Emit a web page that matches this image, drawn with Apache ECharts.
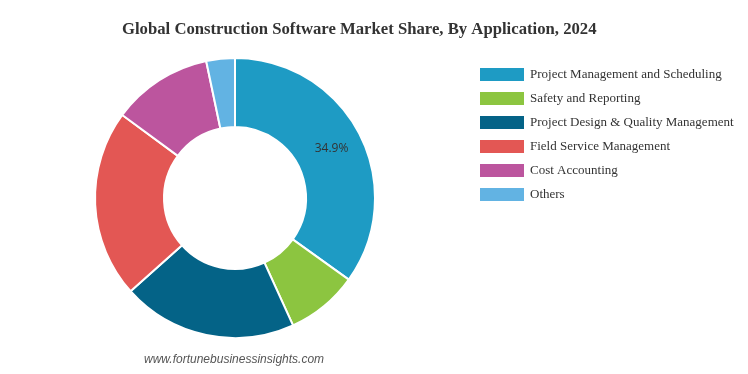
<!DOCTYPE html>
<html>
<head>
<meta charset="utf-8">
<script src="https://cdn.jsdelivr.net/npm/echarts@6/dist/echarts.min.js"></script>
<style>html,body{margin:0;padding:0;background:#fff}#c{width:748px;height:374px}</style>
</head>
<body>
<div id="c"></div>
<script>
var categories = ["Project Management and Scheduling","Safety and Reporting","Project Design & Quality Management","Field Service Management","Cost Accounting","Others"];
var values = [34.9, 8.3, 20.2, 21.7, 11.6, 3.3];
var colors = ["#1e9bc4","#8cc540","#046387","#e35754","#bc559e","#62b3e3"];

var chart = echarts.init(document.getElementById('c'));
chart.setOption({
  animation: false,
  color: colors,
  title: {
    text: "Global Construction Software Market Share, By Application, 2024",
    left: 117, top: 16,
    textStyle: {fontFamily: 'Liberation Serif', fontWeight: 'bold', fontSize: 16.7, color: '#333'}
  },
  graphic: [{
    type: 'text', top: 354, left: 144,
    style: {text: 'www.fortunebusinessinsights.com', font: 'italic 12px "Liberation Sans"', fill: '#555'}
  }],
  legend: {
    orient: 'vertical', left: 473, top: 61,
    itemWidth: 46, itemHeight: 15, itemGap: 7,
    icon: 'rect',
    textStyle: {fontFamily: 'Liberation Serif', fontSize: 13, color: '#333', lineHeight: 15, padding: [0,0,0,0]},
    data: categories
  },
  series: [{
    type: 'pie',
    center: [235, 198],
    radius: [71, 140],
    startAngle: 90,
    clockwise: true,
    itemStyle: {borderColor: '#fff', borderWidth: 2},
    label: {
      show: true, position: 'inside',
      formatter: function(p){ return p.dataIndex === 0 ? p.value.toFixed(1) + '%' : ''; },
      color: '#333', fontSize: 12, fontFamily: 'Open Sans'
    },
    labelLine: {show: false},
    emphasis: {disabled: true},
    data: categories.map(function(n, i){ return {name: n, value: values[i]}; })
  }]
});
</script>
</body>
</html>
